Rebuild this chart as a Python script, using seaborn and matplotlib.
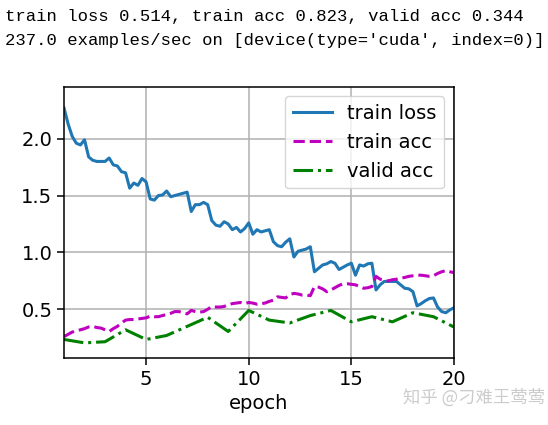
import numpy as np
import pandas as pd
import matplotlib
matplotlib.use("Agg")
import matplotlib.pyplot as plt
import seaborn as sns

# ---- data ----
epoch_steps = [round(1 + 0.2 * i, 1) for i in range(96)]
train_loss = [
    2.27, 2.13, 2.02, 1.96, 1.945,
    1.99, 1.84, 1.81, 1.80, 1.80,
    1.80, 1.83, 1.77, 1.76, 1.71,
    1.70, 1.565, 1.61, 1.59, 1.65,
    1.62, 1.47, 1.46, 1.50, 1.505,
    1.54, 1.49, 1.50, 1.51, 1.52,
    1.53, 1.36, 1.42, 1.42, 1.44,
    1.42, 1.28, 1.24, 1.23, 1.27,
    1.25, 1.20, 1.22, 1.18, 1.21,
    1.26, 1.16, 1.20, 1.18, 1.19,
    1.20, 1.095, 1.06, 1.05, 1.09,
    1.12, 0.96, 1.01, 1.02, 1.03,
    1.05, 0.83, 0.86, 0.89, 0.90,
    0.92, 0.905, 0.85, 0.87, 0.89,
    0.905, 0.80, 0.89, 0.88, 0.90,
    0.905, 0.67, 0.715, 0.745, 0.745,
    0.745, 0.745, 0.715, 0.685, 0.68,
    0.655, 0.53, 0.55, 0.575, 0.595,
    0.60, 0.52, 0.48, 0.47, 0.495,
    0.514,
]
train_acc = [
    0.26, 0.28, 0.30, 0.31, 0.32,
    0.33, 0.345, 0.35, 0.34, 0.335,
    0.32, 0.305, 0.33, 0.35, 0.38,
    0.405, 0.41, 0.41, 0.415, 0.42,
    0.425, 0.44, 0.435, 0.435, 0.445,
    0.455, 0.465, 0.48, 0.48, 0.47,
    0.46, 0.49, 0.48, 0.475, 0.48,
    0.50, 0.525, 0.52, 0.52, 0.525,
    0.54, 0.55, 0.555, 0.56, 0.55,
    0.56, 0.555, 0.545, 0.55, 0.555,
    0.57, 0.58, 0.61, 0.605, 0.60,
    0.63, 0.64, 0.635, 0.625, 0.625,
    0.62, 0.70, 0.695, 0.68, 0.655,
    0.67, 0.69, 0.71, 0.725, 0.725,
    0.72, 0.715, 0.70, 0.685, 0.69,
    0.70, 0.79, 0.765, 0.755, 0.75,
    0.76, 0.765, 0.775, 0.78, 0.79,
    0.795, 0.80, 0.80, 0.795, 0.79,
    0.795, 0.815, 0.83, 0.84, 0.83,
    0.823,
]
valid_epochs = list(range(1, 21))
valid_acc = [0.235, 0.205, 0.215, 0.32, 0.235, 0.27, 0.35, 0.43, 0.305, 0.49,
             0.405, 0.38, 0.445, 0.49, 0.39, 0.435, 0.39, 0.47, 0.435, 0.344]

header1 = "train loss 0.514, train acc 0.823, valid acc 0.344"
header2 = "237.0 examples/sec on [device(type='cuda', index=0)]"
watermark = "知乎 @刁难王莺莺"

# ---- style ----
plt.rcParams.update({
    "font.size": 14,
    "axes.linewidth": 1.1,
    "xtick.major.width": 1.1,
    "ytick.major.width": 1.1,
    "xtick.major.size": 4.9,
    "ytick.major.size": 4.9,
    "grid.linewidth": 1.1,
    "grid.color": "#b0b0b0",
    "legend.fontsize": 14,
})
plt.rcParams["font.family"] = ["DejaVu Sans", "Noto Sans CJK SC"]

fig = plt.figure(figsize=(5.48, 4.25), dpi=100)
ax = fig.add_axes([64 / 548, 1 - 358 / 425, (454 - 64) / 548, (358 - 86.7) / 425])

df_train = pd.DataFrame({"epoch": epoch_steps, "loss": train_loss, "acc": train_acc})
df_valid = pd.DataFrame({"epoch": valid_epochs, "acc": valid_acc})

sns.lineplot(data=df_train, x="epoch", y="loss", ax=ax, color="#1f77b4",
             linestyle="-", linewidth=2.2, label="train loss")
sns.lineplot(data=df_train, x="epoch", y="acc", ax=ax, color="m",
             linestyle="--", linewidth=2.2, label="train acc")
sns.lineplot(data=df_valid, x="epoch", y="acc", ax=ax, color="g",
             linestyle="-.", linewidth=2.2, label="valid acc")

ax.set_xlim(1, 20)
ax.set_ylim(0.072, 2.457)
ax.set_xticks([5, 10, 15, 20])
ax.set_yticks([0.5, 1.0, 1.5, 2.0])
ax.set_xlabel("epoch", fontsize=14)
ax.set_ylabel("")
ax.grid(True)
ax.tick_params(labelsize=14)
ax.legend(loc="upper right", fontsize=14)

fig.text(5 / 548, 1 - 16 / 425, header1, family="Liberation Mono",
         fontsize=12.4, va="center", ha="left")
fig.text(5 / 548, 1 - 41 / 425, header2, family="Liberation Mono",
         fontsize=12.4, va="center", ha="left")
fig.text(545 / 548, 1 - 398 / 425, watermark, family=["Noto Sans CJK SC", "DejaVu Sans"],
         fontsize=12.5, color="#cccccc", va="center", ha="right")

fig.savefig("out.png", dpi=100)
